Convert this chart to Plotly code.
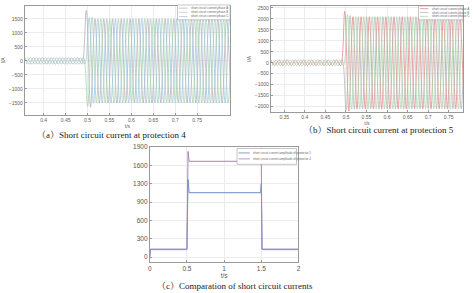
import numpy as np
import plotly.graph_objects as go

W, H = 474, 293

# ---------------- data ----------------
# (a) protection 4 : peak values of each half cycle (A), 50 Hz -> 10 ms per half cycle
a_phase_names = ["short circuit current phase A", "short circuit current phase B", "short circuit current phase C"]
a_colors = ["#b4b4b4", "#a9d6b4", "#a6c6de"]
a_start = 0.357
a_offsets = [0.0, 0.00333, 0.00667]
a_peaks = [
    [115, -115] * 7 + [1800, -1650] + [1500, -1500] * 16,
    [-115, 115] * 7 + [-1620, 1560] + [-1500, 1500] * 16,
    [115, -115] * 7 + [1540, -1510] + [1500, -1500] * 16,
]

# (b) protection 5
b_phase_names = ["short circuit current phase A", "short circuit current phase B", "short circuit current phase C"]
b_colors = ["#e48a8a", "#b8b8b8", "#acd8b0"]
b_start = 0.317
b_offsets = [0.0, 0.00333, 0.00667]
b_peaks = [
    [130, -130] * 9 + [2350, -2200] + [2100, -2100] * 14,
    [-130, 130] * 9 + [-2150, 2150] + [-2100, 2100] * 14,
    [130, -130] * 9 + [2200, -2120] + [2100, -2100] * 14,
]

# (c) amplitude comparison
c_names = ["short circuit current amplitude of protector 5", "short circuit current amplitude of protector 4"]
c_colors = ["#6f8ac4", "#a884bc"]
c_t5 = [0, 0.01, 0.5, 0.515, 0.53, 1.49, 1.5, 1.51, 2.0]
c_i5 = [0, 130, 130, 1270, 1054, 1054, 1200, 130, 130]
c_t4 = [0, 0.01, 0.5, 0.515, 0.53, 1.5, 1.51, 2.0]
c_i4 = [0, 122, 122, 1730, 1569, 1569, 122, 122]
c_yticks = [0, 300, 600, 900, 1200, 1500, 1800]
c_yticklabels = ["0", "300", "600", "900", "1300", "1600", "1900"]
c_xticks = [0, 0.5, 1, 1.5, 2]
c_xticklabels = ["0", "0.5", "1", "1.5", "2"]

a_xticks = [0.4, 0.45, 0.5, 0.55, 0.6, 0.65, 0.7, 0.75]
a_yticks = [-1500, -1000, -500, 0, 500, 1000, 1500]
b_xticks = [0.35, 0.4, 0.45, 0.5, 0.55, 0.6, 0.65, 0.7, 0.75]
b_yticks = [-2000, -1500, -1000, -500, 0, 500, 1000, 1500, 2000, 2500]

captions = ["（a）Short circuit current at protection 4",
            "（b）Short circuit current at protection 5",
            "（c）Comparation of short circuit currents"]

# ---------------- figure ----------------
fig = go.Figure()

HALF = 0.01
for k in range(3):
    t = a_start + a_offsets[k] + HALF * np.arange(len(a_peaks[k]))
    fig.add_trace(go.Scatter(x=t, y=a_peaks[k], mode="lines", name=a_phase_names[k],
                             line=dict(color=a_colors[k], width=0.8, shape="spline", smoothing=1.0),
                             xaxis="x", yaxis="y", showlegend=False))
for k in range(3):
    t = b_start + b_offsets[k] + HALF * np.arange(len(b_peaks[k]))
    fig.add_trace(go.Scatter(x=t, y=b_peaks[k], mode="lines", name=b_phase_names[k],
                             line=dict(color=b_colors[k], width=0.8, shape="spline", smoothing=1.0),
                             xaxis="x2", yaxis="y2", showlegend=False))
fig.add_trace(go.Scatter(x=c_t5, y=c_i5, mode="lines", name=c_names[0],
                         line=dict(color=c_colors[0], width=1), xaxis="x3", yaxis="y3", showlegend=False))
fig.add_trace(go.Scatter(x=c_t4, y=c_i4, mode="lines", name=c_names[1],
                         line=dict(color=c_colors[1], width=1), xaxis="x3", yaxis="y3", showlegend=False))


def px(x):
    return x / W


def py(y):
    return 1 - y / H


axis_common = dict(showline=True, linecolor="#9a9a9a", linewidth=0.8, mirror=True,
                   ticks="inside", ticklen=2, tickcolor="#9a9a9a", showgrid=True,
                   gridcolor="#ececec", gridwidth=0.6, zeroline=False)
small_font = dict(family="Liberation Sans, Arial", size=5, color="#606060")
c_font = dict(family="Liberation Sans, Arial", size=6.5, color="#555555")

fig.update_layout(
    width=W, height=H, margin=dict(l=0, r=0, t=0, b=0),
    paper_bgcolor="white", plot_bgcolor="white", showlegend=False,
    xaxis=dict(domain=[px(23), px(230)], range=[0.357, 0.825], tickvals=a_xticks,
               ticktext=[str(v) for v in a_xticks], tickfont=small_font, anchor="y",
               title=dict(text="t/s", font=small_font, standoff=0), **axis_common),
    yaxis=dict(domain=[py(113), py(3)], range=[-1924, 1959], tickvals=a_yticks,
               tickfont=small_font, anchor="x",
               title=dict(text="I/A", font=small_font, standoff=3), **axis_common),
    xaxis2=dict(domain=[px(271), px(465)], range=[0.317, 0.785], tickvals=b_xticks,
                ticktext=[str(v) for v in b_xticks], tickfont=small_font, anchor="y2",
                title=dict(text="t/s", font=small_font, standoff=0), **axis_common),
    yaxis2=dict(domain=[py(110), py(3)], range=[-2239, 2590], tickvals=b_yticks,
                tickfont=small_font, anchor="x2",
                title=dict(text="I/A", font=small_font, standoff=3), **axis_common),
    xaxis3=dict(domain=[px(149), px(299)], range=[0, 2], tickvals=c_xticks, ticktext=c_xticklabels,
                tickfont=c_font, anchor="y3",
                title=dict(text="t/s", font=c_font, standoff=2), **axis_common),
    yaxis3=dict(domain=[py(262), py(145)], range=[-86, 1811], tickvals=c_yticks, ticktext=c_yticklabels,
                tickfont=c_font, anchor="x3", **axis_common),
)

# captions
cap_font = dict(family="Liberation Serif, Noto Serif CJK SC, Noto Sans CJK SC", size=9, color="#222222")
for (cx, cy), text in zip([(110, 133), (380, 128), (235, 285.5)], captions):
    fig.add_annotation(x=px(cx), y=py(cy), xref="paper", yref="paper", text=text, showarrow=False,
                       font=cap_font, xanchor="center", yanchor="middle")


# manual legends (tiny, MATLAB-style)
def add_legend(box, rows, names, colors, fsize, line_x):
    x0, y0, x1, y1 = box
    fig.add_shape(type="rect", xref="paper", yref="paper", x0=px(x0), x1=px(x1), y0=py(y1), y1=py(y0),
                  line=dict(color="#a0a0a0", width=0.6), fillcolor="white", layer="above")
    for ry, name, col in zip(rows, names, colors):
        fig.add_shape(type="line", xref="paper", yref="paper", x0=px(line_x[0]), x1=px(line_x[1]),
                      y0=py(ry), y1=py(ry), line=dict(color=col, width=0.8), layer="above")
        fig.add_annotation(x=px(line_x[1] + 1.5), y=py(ry), xref="paper", yref="paper", text=name,
                           showarrow=False, xanchor="left", yanchor="middle",
                           font=dict(family="Liberation Sans, Arial", size=fsize, color="#666666"))


add_legend((177, 2, 230, 17), [5.2, 9.4, 13.6], a_phase_names, a_colors, 3, (178.5, 187))
add_legend((420, 3, 465, 17), [5.7, 9.7, 13.5], b_phase_names, b_colors, 3, (421.5, 430))
add_legend((237, 147, 297, 163), [151.5, 157.5], c_names, c_colors, 3, (238.5, 250))

fig.write_html("out.html")
